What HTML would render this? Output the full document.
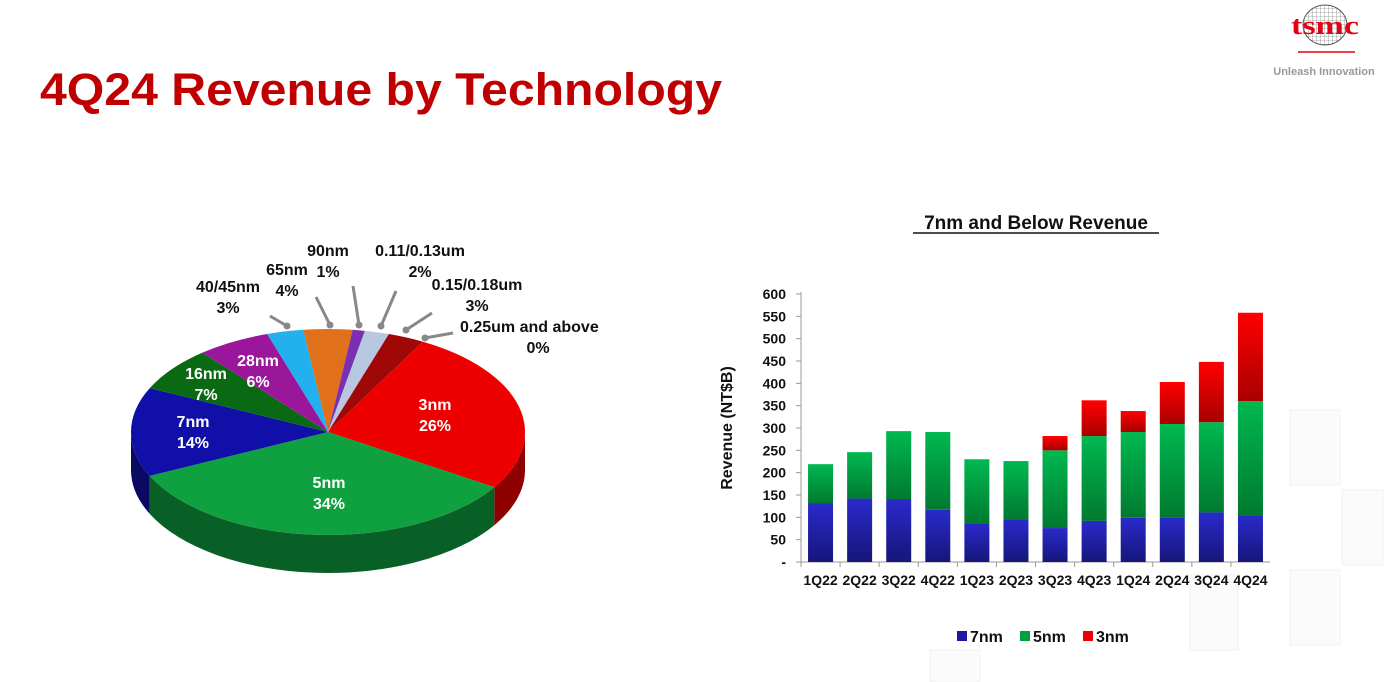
<!DOCTYPE html>
<html><head><meta charset="utf-8">
<style>
html,body{margin:0;padding:0;background:#fff;}
body{width:1384px;height:682px;overflow:hidden;position:relative;font-family:"Liberation Sans",Arial,sans-serif;}
svg{position:absolute;left:0;top:0;}
</style></head>
<body>
<svg id="s" width="1384" height="682" viewBox="0 0 1384 682">
<defs>
<linearGradient id="gB" x1="0" y1="0" x2="0" y2="1"><stop offset="0" stop-color="#2a2acc"/><stop offset="1" stop-color="#16167a"/></linearGradient>
<linearGradient id="gG" x1="0" y1="0" x2="0" y2="1"><stop offset="0" stop-color="#00b850"/><stop offset="1" stop-color="#007a30"/></linearGradient>
<linearGradient id="gR" x1="0" y1="0" x2="0" y2="1"><stop offset="0" stop-color="#ff0000"/><stop offset="1" stop-color="#a80000"/></linearGradient>
<pattern id="grid" width="4" height="4" patternUnits="userSpaceOnUse"><path d="M0,0H4M0,0V4" stroke="#666" stroke-width="0.6"/></pattern>
</defs>
<g fill="#fbfbfb" stroke="#f0f0f0">
<rect x="1290" y="410" width="50" height="75"/><rect x="1342" y="490" width="42" height="75"/>
<rect x="1190" y="575" width="48" height="75"/><rect x="930" y="650" width="50" height="32"/>
<rect x="1290" y="570" width="50" height="75"/>
</g>
<text x="40" y="105" font-size="45" font-weight="bold" fill="#c00000" textLength="682" lengthAdjust="spacingAndGlyphs">4Q24 Revenue by Technology</text>
<g>
<ellipse cx="1325" cy="25" rx="22" ry="20" fill="url(#grid)" stroke="#555" stroke-width="1"/>
<text x="1325" y="34" text-anchor="middle" font-size="26" font-weight="bold" fill="#e60012" font-family="Liberation Serif,serif" textLength="68" lengthAdjust="spacingAndGlyphs">tsmc</text>
<line x1="1298" y1="52" x2="1355" y2="52" stroke="#e60012" stroke-width="1.5"/>
<text x="1324" y="75" text-anchor="middle" font-size="11" font-weight="bold" fill="#999">Unleash Innovation</text>
</g>
<g id="pie"></g>
<g id="bar"></g>
</svg>
<script>
const NS="http://www.w3.org/2000/svg";
function mk(p,t,a){const e=document.createElementNS(NS,t);for(const k in a)e.setAttribute(k,a[k]);p.appendChild(e);return e;}
// ---------- PIE ----------
const pieLabels=["3nm","5nm","7nm","16nm","28nm","40/45nm","65nm","90nm","0.11/0.13um","0.15/0.18um","0.25um and above"];
const pieValues=[26,34,14,7,6,3,4,1,2,3,0];
const pieColors=["#ee0000","#0fa040","#1010a8","#0a6a14","#9a169a","#22b0ee","#e0701a","#7a30b0","#b8c8e0","#a00808","#c00000"];
const pie=document.getElementById('pie');
const cx=328,cy=432,rx=197,ry=103,dep=38,start=28.8;
function pt(a,dy){const r=a*Math.PI/180;return [cx+rx*Math.sin(r),cy-ry*Math.cos(r)+(dy||0)];}
function shade(hex,f){const n=parseInt(hex.slice(1),16);const c=[n>>16,(n>>8)&255,n&255].map(v=>Math.round(v*f));return "rgb("+c.join(",")+")";}
let tot=pieValues.reduce((a,b)=>a+b,0),acc=start;const ang=[];
pieValues.forEach(v=>{const a1=acc,a2=acc+v/tot*360;ang.push([a1,a2]);acc=a2;});
ang.forEach((aa,i)=>{let a1=Math.max(aa[0],90),a2=Math.min(aa[1],270);
 if(a2<=a1)return;const p1=pt(a1),p2=pt(a2),p3=pt(a2,dep),p4=pt(a1,dep);
 const e=mk(pie,'path',{d:`M${p1}A${rx},${ry} 0 0 1 ${p2}L${p3}A${rx},${ry} 0 0 0 ${p4}Z`,fill:shade(pieColors[i],0.6)});
 });
ang.forEach((aa,i)=>{if(aa[1]-aa[0]<0.01)return;const p1=pt(aa[0]),p2=pt(aa[1]);const lg=(aa[1]-aa[0])>180?1:0;
 const e=mk(pie,'path',{d:`M${cx},${cy}L${p1}A${rx},${ry} 0 ${lg} 1 ${p2}Z`,fill:pieColors[i]});
 });
const inside={0:[435,410],1:[329,488],2:[193,427],3:[206,379],4:[258,366]};
Object.keys(inside).forEach(k=>{const [x,y]=inside[k];
 [pieLabels[k],pieValues[k]+"%"].forEach((s,j)=>{const t=mk(pie,'text',{x:x,y:y+j*21,'text-anchor':'middle','font-size':16,'font-weight':'bold',fill:'#fff'});t.textContent=s;
 });});
const outs=[[5,228,292,[270,316],[287,326]],[6,287,275,[316,297],[330,325]],[7,328,256,[353,286],[359,325]],[8,420,256,[396,291],[381,326]],[9,477,290,[432,313],[406,330]],[10,520,332,[453,333],[425,338]]];
outs.forEach(o=>{const i=o[0];
 const l=mk(pie,'line',{x1:o[3][0],y1:o[3][1],x2:o[4][0],y2:o[4][1],stroke:'#888','stroke-width':3});
 
 const d=mk(pie,'circle',{cx:o[4][0],cy:o[4][1],r:3.5,fill:'#888'});
 
 const anch=i==10?'start':'middle';
 [[pieLabels[i],o[1],o[2]],[pieValues[i]+"%",o[1],o[2]+21]].forEach(s=>{
 const t=mk(pie,'text',{x:i==10?o[1]-60:s[1],y:s[2],'text-anchor':anch,'font-size':16,'font-weight':'bold',fill:'#111'});
 if(i==10&&s[0].endsWith('%')){t.setAttribute('x',538);t.setAttribute('text-anchor','middle');}
 t.textContent=s[0];});});
// ---------- BAR ----------
const cats=["1Q22","2Q22","3Q22","4Q22","1Q23","2Q23","3Q23","4Q23","1Q24","2Q24","3Q24","4Q24"];
const s7=[132,142,141,117,87,96,76,92,99,100,111,105];
const s5=[87,104,152,174,143,130,174,190,192,209,202,255];
const s3=[0,0,0,0,0,0,32,80,47,94,135,198];
const yTicks=[0,50,100,150,200,250,300,350,400,450,500,550,600];
const yTickLabels=["-","50","100","150","200","250","300","350","400","450","500","550","600"];
const bar=document.getElementById('bar');
const x0=801,x1=1270,y0=562,yTop=294,yMax=600;
const Y=v=>y0-(v/yMax)*(y0-yTop);const slot=(x1-x0)/cats.length;const bw=25;const X=i=>x0+slot*(i+0.5);
let t=mk(bar,'text',{x:1036,y:229,'text-anchor':'middle','font-size':19,'font-weight':'bold',fill:'#111'});t.textContent="7nm and Below Revenue";

let u=mk(bar,'line',{x1:913,y1:233,x2:1159,y2:233,stroke:'#111','stroke-width':1.5});
yTicks.forEach((v,i)=>{const tt=mk(bar,'text',{x:786,y:Y(v)+5,'text-anchor':'end','font-size':14,'font-weight':'bold',fill:'#111'});tt.textContent=yTickLabels[i];
 
 const tk=mk(bar,'line',{x1:796,y1:Y(v),x2:801,y2:Y(v),stroke:'#999'});});
let ax=mk(bar,'line',{x1:801,y1:yTop-2,x2:801,y2:y0,stroke:'#999'});
let bx=mk(bar,'line',{x1:801,y1:y0,x2:x1,y2:y0,stroke:'#999'});
let yt=mk(bar,'text',{x:0,y:0,transform:'translate(732,428) rotate(-90)','text-anchor':'middle','font-size':16,'font-weight':'bold',fill:'#111'});yt.textContent="Revenue (NT$B)";

cats.forEach((c,i)=>{const segs=[[0,s7[i],'url(#gB)','7nm'],[s7[i],s7[i]+s5[i],'url(#gG)','5nm'],[s7[i]+s5[i],s7[i]+s5[i]+s3[i],'url(#gR)','3nm']];
 segs.forEach(sg=>{if(sg[1]<=sg[0])return;const r=mk(bar,'rect',{x:X(i)-bw/2,y:Y(sg[1]),width:bw,height:Y(sg[0])-Y(sg[1]),fill:sg[2]});
 });
 const tk=mk(bar,'line',{x1:x0+slot*i,y1:y0,x2:x0+slot*i,y2:y0+5,stroke:'#999'});
 const tl=mk(bar,'text',{x:X(i),y:y0+23,'text-anchor':'middle','font-size':14,'font-weight':'bold',fill:'#111'});tl.textContent=c;
 });
[['7nm','#1a1aa0',957],['5nm','#00a040',1020],['3nm','#ee0000',1083]].forEach(l=>{
 const r=mk(bar,'rect',{x:l[2],y:631,width:10,height:10,fill:l[1]});
 const tt=mk(bar,'text',{x:l[2]+13,y:642,'font-size':16,'font-weight':'bold',fill:'#111'});tt.textContent=l[0];
 });
</script>
</body></html>
